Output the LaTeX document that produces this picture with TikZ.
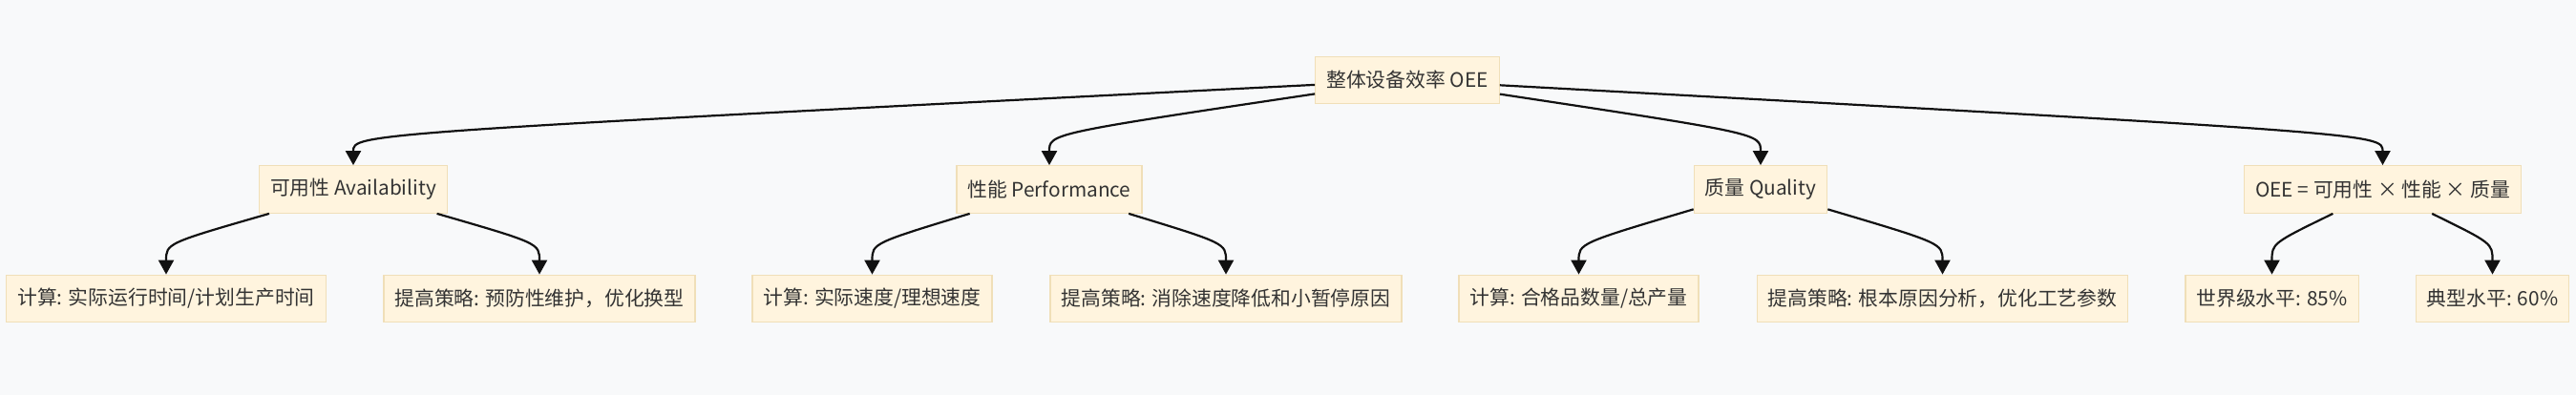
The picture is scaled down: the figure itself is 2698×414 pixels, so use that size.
\documentclass[tikz,border=0pt]{standalone}
\usepackage{fontspec}
\newfontfamily\cjk{Noto Sans CJK SC}
\usetikzlibrary{arrows.meta}
\definecolor{bgcol}{HTML}{F8F9FA}
\definecolor{boxfill}{HTML}{FFF4DE}
\definecolor{boxline}{HTML}{F0DFB8}
\definecolor{txtcol}{HTML}{333333}
\definecolor{linecol}{HTML}{111111}

\begin{document}
\begin{tikzpicture}[x=1pt, y=-1pt, >={Triangle[length=15pt, width=16pt]},
  box/.style={rectangle, draw=boxline, line width=1.3pt, fill=boxfill, text=txtcol,
    font=\cjk\fontsize{20.8}{25}\selectfont, minimum height=49.5pt, inner xsep=11.5pt, inner ysep=0pt},
  link/.style={->, line width=2.2pt, draw=linecol}]
\useasboundingbox[fill=bgcol] (0,0) rectangle (2698,414);

\node[box] (oee) at (1474,84) {整体设备效率 OEE};

\node[box] (avail) at (370,198.5) {可用性 Availability};
\node[box] (perf) at (1099,198.5) {性能 Performance};
\node[box] (qual) at (1844,198.5) {质量 Quality};
\node[box] (formula) at (2495.5,198.5) {OEE = 可用性 × 性能 × 质量};

\node[box] (a1) at (174,313) {计算: 实际运行时间/计划生产时间};
\node[box] (a2) at (565,313) {提高策略: 预防性维护，优化换型};
\node[box] (p1) at (913.5,313) {计算: 实际速度/理想速度};
\node[box] (p2) at (1284,313) {提高策略: 消除速度降低和小暂停原因};
\node[box] (q1) at (1653.5,313) {计算: 合格品数量/总产量};
\node[box] (q2) at (2034.5,313) {提高策略: 根本原因分析，优化工艺参数};
\node[box] (f1) at (2379.5,313) {世界级水平: 85\%};
\node[box] (f2) at (2610.5,313) {典型水平: 60\%};

\draw[link] (oee) .. controls (370,140) .. (avail);
\draw[link] (oee) .. controls (1099,140) .. (perf);
\draw[link] (oee) .. controls (1844,140) .. (qual);
\draw[link] (oee) .. controls (2495.5,140) .. (formula);

\draw[link] (avail) .. controls (174,255) .. (a1);
\draw[link] (avail) .. controls (565,255) .. (a2);
\draw[link] (perf) .. controls (913.5,255) .. (p1);
\draw[link] (perf) .. controls (1284,255) .. (p2);
\draw[link] (qual) .. controls (1653.5,255) .. (q1);
\draw[link] (qual) .. controls (2034.5,255) .. (q2);
\draw[link] (formula) .. controls (2379.5,255) .. (f1);
\draw[link] (formula) .. controls (2610.5,255) .. (f2);
\end{tikzpicture}
\end{document}
